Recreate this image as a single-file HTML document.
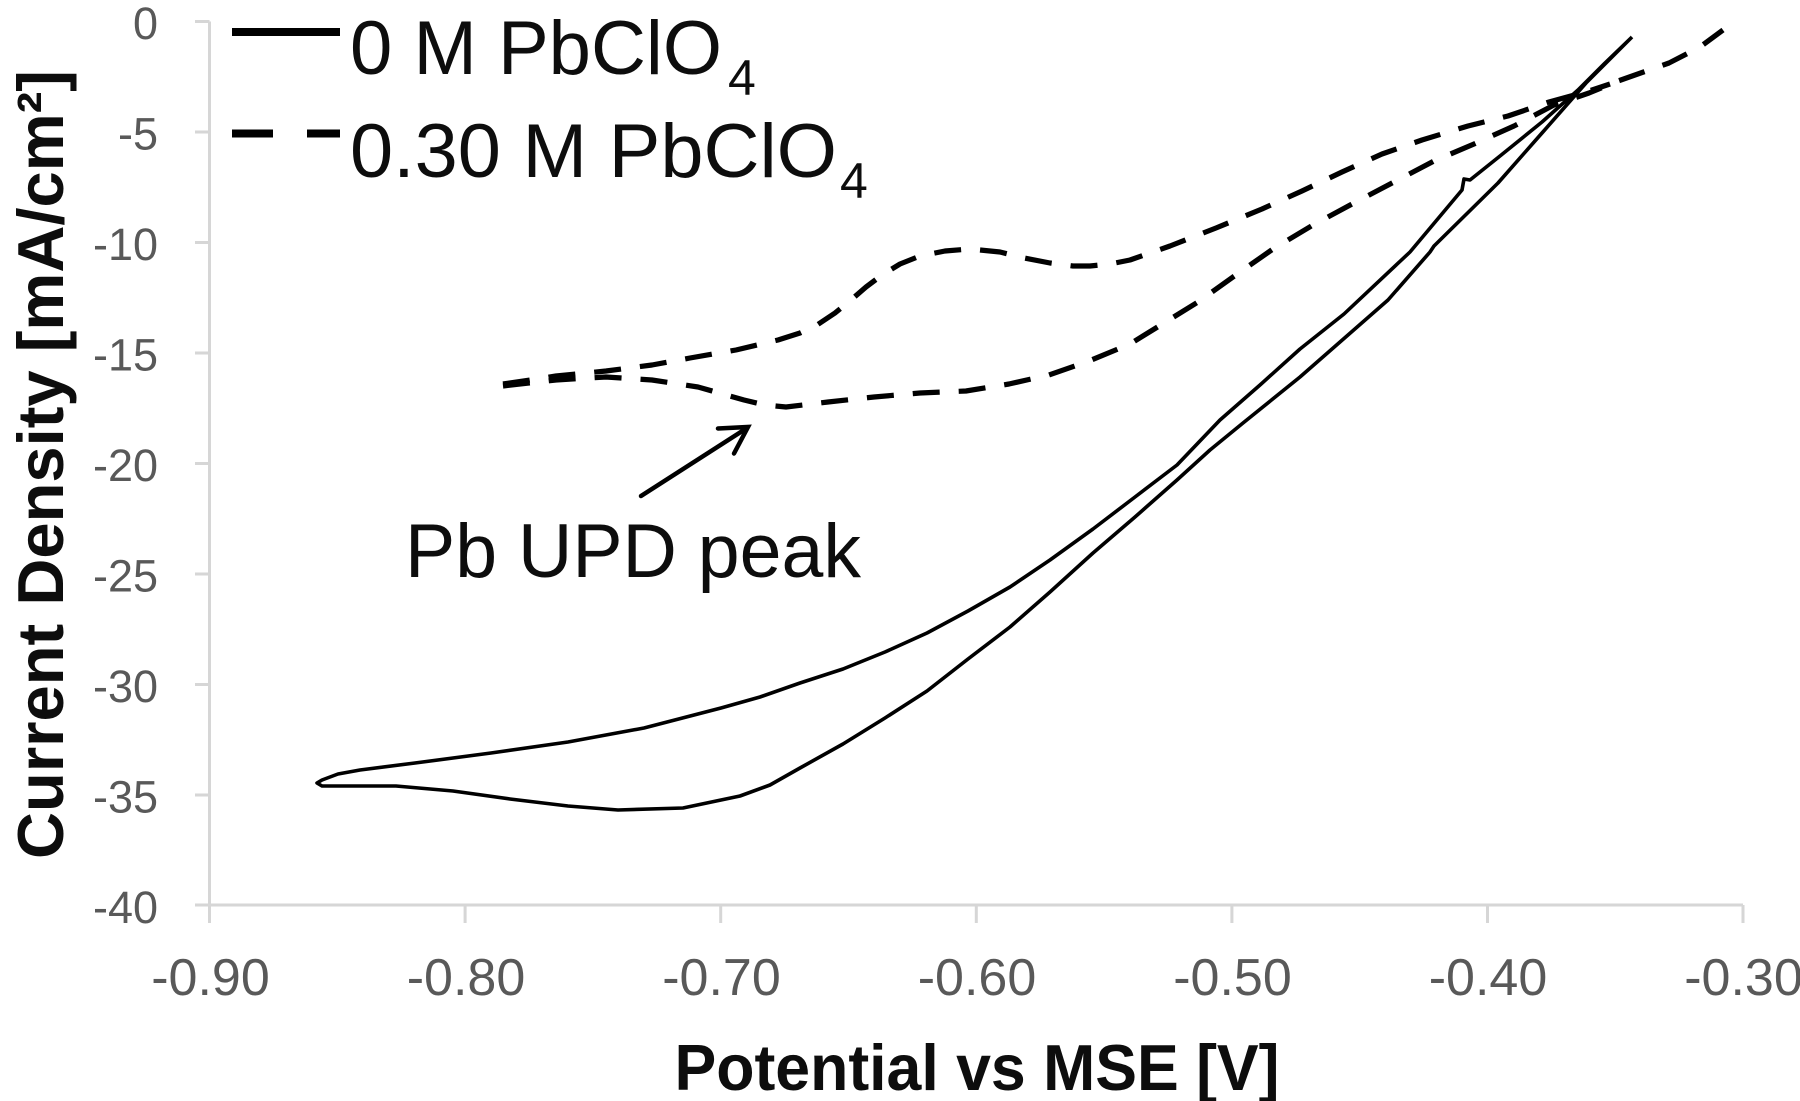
<!DOCTYPE html>
<html>
<head>
<meta charset="utf-8">
<style>
html,body{margin:0;padding:0;background:#fff;}
svg{display:block;}
text{font-family:"Liberation Sans",Arial,sans-serif;}
</style>
</head>
<body>
<svg width="1800" height="1101" viewBox="0 0 1800 1101" xmlns="http://www.w3.org/2000/svg">
<rect x="0" y="0" width="1800" height="1101" fill="#ffffff"/>

<!-- axes -->
<g stroke="#d6d6d6" stroke-width="3" fill="none">
  <line x1="209.5" y1="21.5" x2="209.5" y2="905"/>
  <line x1="195" y1="905" x2="1743" y2="905"/>
  <!-- y ticks -->
  <line x1="195" y1="21.5" x2="209.5" y2="21.5"/>
  <line x1="195" y1="132" x2="209.5" y2="132"/>
  <line x1="195" y1="242.5" x2="209.5" y2="242.5"/>
  <line x1="195" y1="353" x2="209.5" y2="353"/>
  <line x1="195" y1="463.5" x2="209.5" y2="463.5"/>
  <line x1="195" y1="574" x2="209.5" y2="574"/>
  <line x1="195" y1="684.5" x2="209.5" y2="684.5"/>
  <line x1="195" y1="795" x2="209.5" y2="795"/>
  <!-- x ticks -->
  <line x1="209.5" y1="905" x2="209.5" y2="923"/>
  <line x1="465.1" y1="905" x2="465.1" y2="923"/>
  <line x1="720.7" y1="905" x2="720.7" y2="923"/>
  <line x1="976.3" y1="905" x2="976.3" y2="923"/>
  <line x1="1231.9" y1="905" x2="1231.9" y2="923"/>
  <line x1="1487.5" y1="905" x2="1487.5" y2="923"/>
  <line x1="1743" y1="905" x2="1743" y2="923"/>
</g>

<!-- y tick labels -->
<g fill="#595959" font-size="45" text-anchor="end">
  <text x="158" y="39">0</text>
  <text x="158" y="149.5">-5</text>
  <text x="158" y="260">-10</text>
  <text x="158" y="370.5">-15</text>
  <text x="158" y="481">-20</text>
  <text x="158" y="591.5">-25</text>
  <text x="158" y="702">-30</text>
  <text x="158" y="812.5">-35</text>
  <text x="158" y="923">-40</text>
</g>

<!-- x tick labels -->
<g fill="#595959" font-size="52" text-anchor="middle">
  <text x="210.5" y="995">-0.90</text>
  <text x="466" y="995">-0.80</text>
  <text x="721.5" y="995">-0.70</text>
  <text x="977" y="995">-0.60</text>
  <text x="1232.5" y="995">-0.50</text>
  <text x="1488" y="995">-0.40</text>
  <text x="1743.5" y="995">-0.30</text>
</g>

<!-- axis titles -->
<text x="674.5" y="1090" font-size="65" font-weight="bold" fill="#0d0d0d" textLength="605" lengthAdjust="spacingAndGlyphs">Potential vs MSE [V]</text>
<text transform="translate(63,464.5) rotate(-90)" text-anchor="middle" font-size="65" font-weight="bold" fill="#0d0d0d" textLength="789" lengthAdjust="spacingAndGlyphs">Current Density [mA/cm²]</text>

<!-- legend -->
<line x1="232" y1="32" x2="340" y2="32" stroke="#000" stroke-width="8"/>
<line x1="232" y1="133.5" x2="273" y2="133.5" stroke="#000" stroke-width="8"/>
<line x1="307" y1="133.5" x2="340" y2="133.5" stroke="#000" stroke-width="8"/>
<text x="350" y="74" font-size="76" fill="#0d0d0d" textLength="372" lengthAdjust="spacingAndGlyphs">0 M PbClO</text>
<text x="728" y="95" font-size="50" fill="#0d0d0d">4</text>
<text x="350" y="177" font-size="76" fill="#0d0d0d" textLength="487" lengthAdjust="spacingAndGlyphs">0.30 M PbClO</text>
<text x="840" y="198" font-size="50" fill="#0d0d0d">4</text>

<!-- annotation -->
<text x="405" y="577" font-size="76" fill="#0d0d0d" textLength="456" lengthAdjust="spacingAndGlyphs">Pb UPD peak</text>
<g stroke="#000" stroke-width="4.5" fill="none" stroke-linecap="round">
  <line x1="641" y1="496" x2="747" y2="428"/>
  <polyline points="718,428.5 748,427 734,453.5"/>
</g>

<!-- solid series: 0 M -->
<polyline fill="none" stroke="#000" stroke-width="3.6" stroke-linejoin="round" points="
1632,37 1605,63 1578,90 1542,122 1500,156 1470,180 1464,179 1462,190 1410,252 1344,314 1300,349 1260,385 1220,420 1177,465 1135,497 1093,529 1050,560 1010,587 968,611 927,633 885,652 843,669 800,683 760,697 721,708 644,728 568,742 491,753 415,763 360,770 338,774 322,780 317,783
322,786 338,786 396,786 453,791 510,799 568,806 618,810 683,808 740,796 770,785 800,768 843,744 885,718 927,691 968,659 1010,627 1050,592 1093,553 1135,517 1177,480 1210,450 1243,423 1300,377 1388,300 1430,252 1434,246 1498,183 1542,133 1586,83 1632,37"/>

<!-- dashed series: 0.30 M -->
<g fill="none" stroke="#000" stroke-width="5.2" stroke-dasharray="27 19" stroke-linejoin="round">
<polyline points="
503,384 530,380 556,376 606,371 652,365 690,358 736,350 778,340 800,333 817,325 835,313 851,300 866,287 882,275 900,264 920,256 945,251 970,249 1000,252 1024,258 1050,263 1073,266 1090,266 1110,264 1130,260 1170,246 1216,228 1262,209 1302,191 1342,172 1382,154 1422,140 1468,126 1508,116 1549,102 1589,91 1610,84"/>
<polyline points="
503,386 556,380 606,377 652,380 698,387 744,400 765,405 786,407 828,402 874,397 920,393 966,391 1009,384 1049,375 1089,361 1130,344 1164,323 1198,302 1233,277 1273,249 1313,225 1354,203 1394,182 1434,161 1474,144 1514,126 1554,105 1589,93 1618,81 1669,63 1700,47 1723,30"/>
</g>
</svg>
</body>
</html>
